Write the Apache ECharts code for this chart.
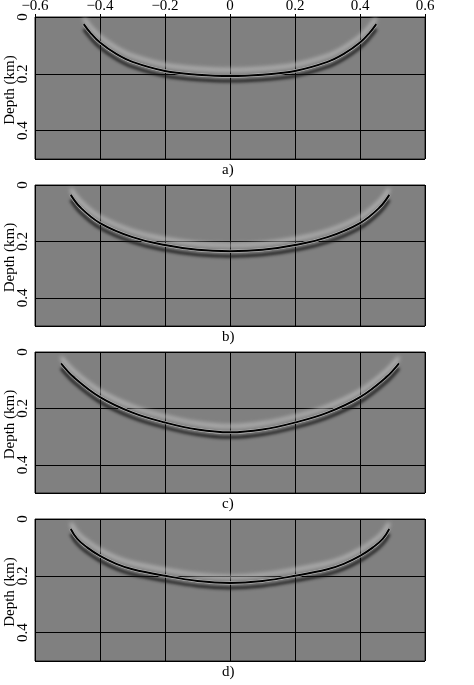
<!DOCTYPE html>
<html><head><meta charset="utf-8">
<script src="https://cdn.jsdelivr.net/npm/echarts@6/dist/echarts.min.js"></script>
<style>html,body{margin:0;padding:0;background:#fff}#c{width:474px;height:685px}</style>
</head><body><div id="c"></div>
<script>
const xTicks = [-0.6, -0.4, -0.2, 0, 0.2, 0.4, 0.6];
const depthTicks = [0, 0.2, 0.4];
const captions = ['a)', 'b)', 'c)', 'd)'];
const yName = 'Depth (km)';
const curveA = [[-0.45,0.025],[-0.43,0.055],[-0.4,0.09],[-0.35,0.13],[-0.3,0.158],[-0.2,0.19],[-0.1,0.203],[0,0.208],[0.1,0.203],[0.2,0.19],[0.3,0.158],[0.35,0.13],[0.4,0.09],[0.43,0.055],[0.45,0.025]];
const curveB = [[-0.49,0.035],[-0.46,0.08],[-0.4,0.135],[-0.3,0.185],[-0.2,0.213],[-0.1,0.23],[0,0.235],[0.1,0.23],[0.2,0.213],[0.3,0.185],[0.4,0.135],[0.46,0.08],[0.49,0.035]];
const curveC = [[-0.52,0.04],[-0.48,0.09],[-0.4,0.16],[-0.3,0.215],[-0.2,0.25],[-0.1,0.275],[0,0.285],[0.1,0.275],[0.2,0.25],[0.3,0.215],[0.4,0.16],[0.48,0.09],[0.52,0.04]];
const curveD = [[-0.49,0.035],[-0.47,0.07],[-0.44,0.1],[-0.4,0.13],[-0.35,0.158],[-0.3,0.177],[-0.2,0.2],[-0.1,0.218],[0,0.225],[0.1,0.218],[0.2,0.2],[0.3,0.177],[0.35,0.158],[0.4,0.13],[0.44,0.1],[0.47,0.07],[0.49,0.035]];
const curves = [curveA, curveB, curveC, curveD];

const tops = [17, 185, 352, 519];
const heights = [142, 141, 141, 142];
const serif = 'Liberation Serif';
const chart = echarts.init(document.getElementById('c'));
const grid = [], xAxis = [], yAxis = [], series = [], graphic = [];
curves.forEach((cv, i) => {
  grid.push({left: 35, width: 390, top: tops[i], height: heights[i], containLabel: false, outerBoundsMode: 'none',
    show: true, backgroundColor: '#808080', borderColor: '#222', borderWidth: 1});
  xAxis.push({gridIndex: i, type: 'value', min: -0.6, max: 0.6, interval: 0.2, position: 'top',
    axisLine: {show: false}, axisTick: {show: i === 0, length: 3, lineStyle: {color: '#000'}},
    axisLabel: {show: i === 0, color: '#000', fontFamily: serif, fontSize: 15, margin: 3,
      formatter: v => (Math.abs(v) < 1e-9 ? '0' : (v < 0 ? '\u2212' + Math.abs(v).toFixed(1) : v.toFixed(1)))},
    splitLine: {show: true, lineStyle: {color: '#000', width: 1}}});
  yAxis.push({gridIndex: i, type: 'value', inverse: true, min: 0, max: 0.5, interval: 0.2,
    axisLine: {show: false}, axisTick: {show: true, length: 3, lineStyle: {color: '#000'}},
    axisLabel: {color: '#000', fontFamily: serif, fontSize: 15, rotate: 90, margin: 4,
      formatter: v => depthTicks.indexOf(Math.round(v*10)/10) >= 0 ? String(Math.round(v*10)/10) : ''},
    splitLine: {show: true, lineStyle: {color: '#000', width: 1}}});
  series.push({type: 'line', xAxisIndex: i, yAxisIndex: i, data: cv, smooth: 0.4, symbol: 'none', silent: true,
    lineStyle: {color: '#808080', width: 3, shadowColor: 'rgba(200,200,200,0.9)', shadowBlur: 4, shadowOffsetY: -6}});
  series.push({type: 'line', xAxisIndex: i, yAxisIndex: i, data: cv, smooth: 0.4, symbol: 'none', silent: true,
    lineStyle: {color: '#c8c8c8', width: 3, shadowColor: 'rgba(20,20,20,0.85)', shadowBlur: 3, shadowOffsetY: 5}});
  series.push({type: 'line', xAxisIndex: i, yAxisIndex: i, data: cv, smooth: 0.4, symbol: 'none', silent: true,
    lineStyle: {color: '#000', width: 2}});
  graphic.push({type: 'text', left: 222, top: tops[i] + heights[i] + 4,
    style: {text: captions[i], font: '15px "Liberation Serif"', fill: '#000'}});
  graphic.push({type: 'text', x: 3, y: tops[i] + heights[i] / 2 + 2, rotation: Math.PI / 2,
    style: {text: yName, font: '15px "Liberation Serif"', fill: '#000', align: 'center', verticalAlign: 'top'}});
});
chart.setOption({animation: false, grid, xAxis, yAxis, series, graphic});
</script></body></html>
